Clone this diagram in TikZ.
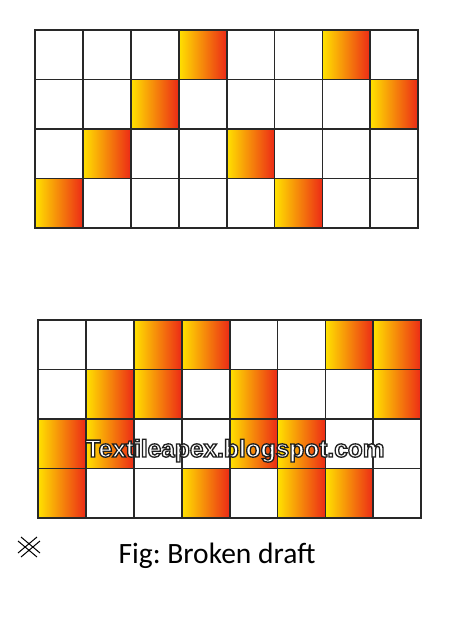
\documentclass[tikz,border=0pt]{standalone}
\usepackage{fontspec}
\setmainfont{Carlito}
\newfontfamily\markfont{Liberation Sans}
\usetikzlibrary{positioning}

\definecolor{draftyellow}{RGB}{255,226,0}
\definecolor{draftorange}{RGB}{249,148,24}
\definecolor{draftred}{RGB}{236,42,22}
\definecolor{gridline}{RGB}{40,40,40}

% outlined letters: fill and stroke the glyphs
\newcommand{\outlined}[1]{\special{pdf:literal direct 2 Tr 1.3 w 0.12 G}#1\special{pdf:literal direct 0 Tr}}

\begin{document}
\begin{tikzpicture}[x=1pt, y=-1pt,
        cell/.style={draw=gridline, line width=1.8pt},
        lifted/.style={left color=draftyellow, middle color=draftorange, right color=draftred},
        markface/.style={inner sep=0pt, text=white, font=\markfont\bfseries\fontsize{24.5}{24}\selectfont}
    ]
        \useasboundingbox[fill=white] (0,0) rectangle (450,618);

        % upper draft
        \foreach \r/\c in {1/4,1/7,2/3,2/8,3/2,3/5,4/1,4/6}
            \shade[lifted] ({35+(\c-1)*47.9},{30+(\r-1)*49.5}) rectangle ++(47.9,49.5);
        \foreach \r in {1,...,4}
            \foreach \c in {1,...,8}
                \draw[cell] ({35+(\c-1)*47.9},{30+(\r-1)*49.5}) rectangle ++(47.9,49.5);

        % lower draft
        \foreach \r/\c in {1/3,1/4,1/7,1/8,2/2,2/3,2/5,2/8,3/1,3/2,3/5,3/6,4/1,4/4,4/6,4/7}
            \shade[lifted] ({38+(\c-1)*47.9},{320+(\r-1)*49.5}) rectangle ++(47.9,49.5);
        \foreach \r in {1,...,4}
            \foreach \c in {1,...,8}
                \draw[cell] ({38+(\c-1)*47.9},{320+(\r-1)*49.5}) rectangle ++(47.9,49.5);

        % watermark
        \node[markface, anchor=base] (mark) at (235,457) {\outlined{Textileapex.blogspot.com}};

        % caption
        \node[anchor=base, font=\frenchspacing\fontsize{29.5}{29}\selectfont] (caption) at (217,563) {Fig: Broken draft};

        % little cross mark
        \draw[line width=1pt] (18,541) -- (37,557) (21,537) -- (40,553)
                              (18,553) -- (37,537) (21,557) -- (40,541);
    \end{tikzpicture}
\end{document}
